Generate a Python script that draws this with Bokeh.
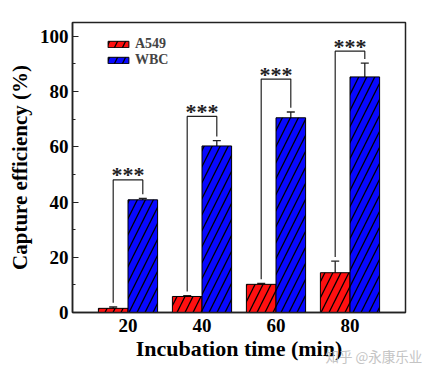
from bokeh.plotting import figure
from bokeh.models import (Legend, LegendItem, Whisker, ColumnDataSource, Label,
                          FixedTicker, TeeHead, Range1d)
from bokeh.core.properties import value
from bokeh.embed import file_html
from bokeh.resources import INLINE

# ---- data ----
times = [20, 40, 60, 80]
a549 = [1.5, 5.8, 10.2, 14.4]
a549_err = [0.5, 0.3, 0.3, 4.2]
wbc = [40.8, 60.3, 70.5, 85.3]
wbc_err = [0.5, 1.9, 2.1, 5.0]
bracket_y = [48.0, 71.0, 84.5, 94.6]
stars = ["***", "***", "***", "***"]
y_ticks = [0, 20, 40, 60, 80, 100]
series_names = ["A549", "WBC"]

FONT = "Liberation Serif"
OFF = 4.0
W = 8.0
GAP = 1.5

src = ColumnDataSource(dict(
    t=times,
    xr=[t - OFF for t in times],
    xb=[t + OFF for t in times],
    a=a549,
    b=wbc,
    a_lo=[v - e for v, e in zip(a549, a549_err)],
    a_hi=[v + e for v, e in zip(a549, a549_err)],
    b_lo=[v - e for v, e in zip(wbc, wbc_err)],
    b_hi=[v + e for v, e in zip(wbc, wbc_err)],
    by=bracket_y,
    stars=stars,
))

p = figure(width=432, height=378, output_backend="svg", toolbar_location=None,
           x_range=Range1d(5, 95), y_range=Range1d(0, 105),
           min_border_left=72, min_border_right=27, min_border_top=22, min_border_bottom=66)

r_red = p.vbar(x="xr", top="a", width=W, source=src, fill_color="#ff1010",
               line_color="black", line_width=1,
               hatch_pattern="/", hatch_color="black", hatch_scale=16, hatch_weight=1.3)
r_blue = p.vbar(x="xb", top="b", width=W, source=src, fill_color="#0808ff",
                line_color="black", line_width=1,
                hatch_pattern="/", hatch_color="black", hatch_scale=16, hatch_weight=1.3)

for lo, hi, base in (("a_lo", "a_hi", "xr"), ("b_lo", "b_hi", "xb")):
    wk = Whisker(source=src, base=base, upper=hi, lower=lo, line_color="#222222", line_width=1.3,
                 upper_head=TeeHead(size=8, line_color="#222222", line_width=1.3),
                 lower_head=TeeHead(size=8, line_color="#222222", line_width=1.3))
    p.add_layout(wk)

# significance brackets
xs, ys = [], []
for t, ah, bh, by in zip(times, src.data["a_hi"], src.data["b_hi"], bracket_y):
    xs.append([t - OFF, t - OFF, t + OFF, t + OFF])
    ys.append([ah + GAP, by, by, bh + GAP])
p.multi_line(xs=xs, ys=ys, line_color="#222222", line_width=1.2)
p.text(x="t", y="by", text="stars", source=src, text_align="center",
       text_baseline="middle", text_font=value(FONT), text_font_style="bold",
       text_font_size="22px", text_color="#222222", y_offset=-5)

# axes
p.xgrid.visible = False
p.ygrid.visible = False
p.outline_line_color = "#222222"
p.outline_line_width = 1.5

p.xaxis.ticker = FixedTicker(ticks=times)
p.yaxis.ticker = FixedTicker(ticks=y_ticks, minor_ticks=[10, 30, 50, 70, 90])
for ax in (p.xaxis[0], p.yaxis[0]):
    ax.axis_line_color = "#222222"
    ax.axis_line_width = 1.5
    ax.major_label_text_font = FONT
    ax.major_label_text_font_style = "bold"
    ax.major_label_text_font_size = "19px"
    ax.major_label_text_color = "black"
    ax.axis_label_text_font = FONT
    ax.axis_label_text_font_style = "bold"
    ax.axis_label_text_font_size = "21px"
    ax.axis_label_text_color = "black"
    ax.major_tick_line_color = "#222222"
    ax.minor_tick_line_color = "#222222"
p.xaxis.axis_label_text_font_size = "22px"
p.xaxis.major_tick_in = 0
p.xaxis.major_tick_out = 0
p.xaxis.minor_tick_in = 0
p.xaxis.minor_tick_out = 0
p.xaxis.major_label_standoff = 6
p.xaxis.axis_label_standoff = 1
p.xaxis.axis_label = "Incubation time (min)"
p.yaxis.major_tick_in = 6
p.yaxis.major_tick_out = 0
p.yaxis.minor_tick_in = 3
p.yaxis.minor_tick_out = 0
p.yaxis.major_label_standoff = 4
p.yaxis.axis_label_standoff = 5
p.yaxis.axis_label = "Capture efficiency (%)"

legend = Legend(items=[LegendItem(label=series_names[0], renderers=[r_red]),
                       LegendItem(label=series_names[1], renderers=[r_blue])],
                location=(33, 244), padding=0, margin=0, spacing=0,
                glyph_width=26, glyph_height=8, label_height=15,
                label_text_font=FONT, label_text_font_style="bold",
                label_text_font_size="14px", label_standoff=4,
                border_line_color=None, background_fill_alpha=0)
p.add_layout(legend)

# watermark (kept in a side panel so it is not clipped to the plot frame)
p.add_layout(Label(x=253, y=-343, x_units="screen", y_units="screen", text="知乎 @永康乐业",
                   text_font="Noto Sans CJK SC", text_font_size="13.5px", text_color="#c4c4c4"),
             "above")

open("out.html", "w").write(file_html(p, INLINE))
